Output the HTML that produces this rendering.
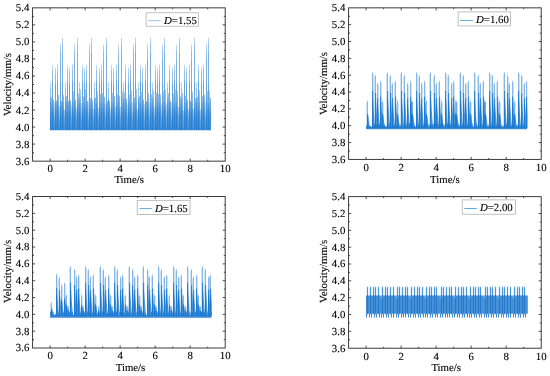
<!DOCTYPE html>
<html><head><meta charset="utf-8"><title>Velocity plots</title>
<style>
html,body{margin:0;padding:0;background:#fff;}
svg{display:block;}
text{font-family:"Liberation Serif", serif;font-size:10.8px;fill:#000;stroke:#000;stroke-width:0.12px;text-rendering:geometricPrecision;}
</style></head>
<body>
<svg width="550" height="376" viewBox="0 0 550 376">
<rect width="550" height="376" fill="#fff"/>
<defs><linearGradient id="gA" gradientUnits="userSpaceOnUse" x1="0" y1="130.49" x2="0" y2="91.31"><stop offset="0" stop-color="#1676cf" stop-opacity="0.93"/><stop offset="0.35" stop-color="#1676cf" stop-opacity="0.9"/><stop offset="0.74" stop-color="#1676cf" stop-opacity="0.7"/><stop offset="1" stop-color="#1676cf" stop-opacity="0.657"/></linearGradient><linearGradient id="gB" gradientUnits="userSpaceOnUse" x1="0" y1="130.49" x2="0" y2="87.91"><stop offset="0" stop-color="#1676cf" stop-opacity="0.86"/><stop offset="0.38" stop-color="#1676cf" stop-opacity="0.78"/><stop offset="0.68" stop-color="#1676cf" stop-opacity="0.55"/><stop offset="1" stop-color="#1676cf" stop-opacity="0.3"/></linearGradient><linearGradient id="gC" gradientUnits="userSpaceOnUse" x1="0" y1="130.49" x2="0" y2="98.13"><stop offset="0" stop-color="#1676cf" stop-opacity="0.8"/><stop offset="0.29" stop-color="#1676cf" stop-opacity="0.68"/><stop offset="0.58" stop-color="#1676cf" stop-opacity="0.4"/><stop offset="1" stop-color="#1676cf" stop-opacity="0.12"/></linearGradient></defs>
<rect x="32.6" y="7.85" width="192.6" height="153.3" fill="none" stroke="#262626" stroke-width="0.9"/>
<path d="M50.11 161.15v-2.6M50.11 7.85v2.6M67.62 161.15v-1.4M67.62 7.85v1.4M85.13 161.15v-2.6M85.13 7.85v2.6M102.64 161.15v-1.4M102.64 7.85v1.4M120.15 161.15v-2.6M120.15 7.85v2.6M137.65 161.15v-1.4M137.65 7.85v1.4M155.16 161.15v-2.6M155.16 7.85v2.6M172.67 161.15v-1.4M172.67 7.85v1.4M190.18 161.15v-2.6M190.18 7.85v2.6M207.69 161.15v-1.4M207.69 7.85v1.4M32.6 152.63h1.4M225.2 152.63h-1.4M32.6 144.12h2.6M225.2 144.12h-2.6M32.6 135.6h1.4M225.2 135.6h-1.4M32.6 127.08h2.6M225.2 127.08h-2.6M32.6 118.57h1.4M225.2 118.57h-1.4M32.6 110.05h2.6M225.2 110.05h-2.6M32.6 101.53h1.4M225.2 101.53h-1.4M32.6 93.02h2.6M225.2 93.02h-2.6M32.6 84.5h1.4M225.2 84.5h-1.4M32.6 75.98h2.6M225.2 75.98h-2.6M32.6 67.47h1.4M225.2 67.47h-1.4M32.6 58.95h2.6M225.2 58.95h-2.6M32.6 50.43h1.4M225.2 50.43h-1.4M32.6 41.92h2.6M225.2 41.92h-2.6M32.6 33.4h1.4M225.2 33.4h-1.4M32.6 24.88h2.6M225.2 24.88h-2.6M32.6 16.37h1.4M225.2 16.37h-1.4" stroke="#262626" stroke-width="0.8" fill="none"/>
<text x="29.3" y="164.6" text-anchor="end">3.6</text>
<text x="29.3" y="147.57" text-anchor="end">3.8</text>
<text x="29.3" y="130.53" text-anchor="end">4.0</text>
<text x="29.3" y="113.5" text-anchor="end">4.2</text>
<text x="29.3" y="96.47" text-anchor="end">4.4</text>
<text x="29.3" y="79.43" text-anchor="end">4.6</text>
<text x="29.3" y="62.4" text-anchor="end">4.8</text>
<text x="29.3" y="45.37" text-anchor="end">5.0</text>
<text x="29.3" y="28.33" text-anchor="end">5.2</text>
<text x="29.3" y="11.3" text-anchor="end">5.4</text>
<text x="50.11" y="172.45" text-anchor="middle">0</text>
<text x="85.13" y="172.45" text-anchor="middle">2</text>
<text x="120.15" y="172.45" text-anchor="middle">4</text>
<text x="155.16" y="172.45" text-anchor="middle">6</text>
<text x="190.18" y="172.45" text-anchor="middle">8</text>
<text x="225.2" y="172.45" text-anchor="middle">10</text>
<text x="129.2" y="183" text-anchor="middle" font-size="11">Time/s</text>
<text transform="translate(10.9 84.5) rotate(-90)" text-anchor="middle" font-size="11">Velocity/mm/s</text>
<rect x="348.6" y="7.85" width="192.6" height="151.55" fill="none" stroke="#262626" stroke-width="0.9"/>
<path d="M366.11 159.4v-2.6M366.11 7.85v2.6M383.62 159.4v-1.4M383.62 7.85v1.4M401.13 159.4v-2.6M401.13 7.85v2.6M418.64 159.4v-1.4M418.64 7.85v1.4M436.15 159.4v-2.6M436.15 7.85v2.6M453.65 159.4v-1.4M453.65 7.85v1.4M471.16 159.4v-2.6M471.16 7.85v2.6M488.67 159.4v-1.4M488.67 7.85v1.4M506.18 159.4v-2.6M506.18 7.85v2.6M523.69 159.4v-1.4M523.69 7.85v1.4M348.6 150.98h1.4M541.2 150.98h-1.4M348.6 142.56h2.6M541.2 142.56h-2.6M348.6 134.14h1.4M541.2 134.14h-1.4M348.6 125.72h2.6M541.2 125.72h-2.6M348.6 117.3h1.4M541.2 117.3h-1.4M348.6 108.88h2.6M541.2 108.88h-2.6M348.6 100.46h1.4M541.2 100.46h-1.4M348.6 92.04h2.6M541.2 92.04h-2.6M348.6 83.63h1.4M541.2 83.63h-1.4M348.6 75.21h2.6M541.2 75.21h-2.6M348.6 66.79h1.4M541.2 66.79h-1.4M348.6 58.37h2.6M541.2 58.37h-2.6M348.6 49.95h1.4M541.2 49.95h-1.4M348.6 41.53h2.6M541.2 41.53h-2.6M348.6 33.11h1.4M541.2 33.11h-1.4M348.6 24.69h2.6M541.2 24.69h-2.6M348.6 16.27h1.4M541.2 16.27h-1.4" stroke="#262626" stroke-width="0.8" fill="none"/>
<text x="345.3" y="162.85" text-anchor="end">3.6</text>
<text x="345.3" y="146.01" text-anchor="end">3.8</text>
<text x="345.3" y="129.17" text-anchor="end">4.0</text>
<text x="345.3" y="112.33" text-anchor="end">4.2</text>
<text x="345.3" y="95.49" text-anchor="end">4.4</text>
<text x="345.3" y="78.66" text-anchor="end">4.6</text>
<text x="345.3" y="61.82" text-anchor="end">4.8</text>
<text x="345.3" y="44.98" text-anchor="end">5.0</text>
<text x="345.3" y="28.14" text-anchor="end">5.2</text>
<text x="345.3" y="11.3" text-anchor="end">5.4</text>
<text x="366.11" y="170.7" text-anchor="middle">0</text>
<text x="401.13" y="170.7" text-anchor="middle">2</text>
<text x="436.15" y="170.7" text-anchor="middle">4</text>
<text x="471.16" y="170.7" text-anchor="middle">6</text>
<text x="506.18" y="170.7" text-anchor="middle">8</text>
<text x="541.2" y="170.7" text-anchor="middle">10</text>
<text x="444.85" y="182.5" text-anchor="middle" font-size="11">Time/s</text>
<text transform="translate(327.3 83.5) rotate(-90)" text-anchor="middle" font-size="11">Velocity/mm/s</text>
<rect x="32.6" y="196.55" width="192.6" height="151.45" fill="none" stroke="#262626" stroke-width="0.9"/>
<path d="M50.11 348v-2.6M50.11 196.55v2.6M67.62 348v-1.4M67.62 196.55v1.4M85.13 348v-2.6M85.13 196.55v2.6M102.64 348v-1.4M102.64 196.55v1.4M120.15 348v-2.6M120.15 196.55v2.6M137.65 348v-1.4M137.65 196.55v1.4M155.16 348v-2.6M155.16 196.55v2.6M172.67 348v-1.4M172.67 196.55v1.4M190.18 348v-2.6M190.18 196.55v2.6M207.69 348v-1.4M207.69 196.55v1.4M32.6 339.59h1.4M225.2 339.59h-1.4M32.6 331.17h2.6M225.2 331.17h-2.6M32.6 322.76h1.4M225.2 322.76h-1.4M32.6 314.34h2.6M225.2 314.34h-2.6M32.6 305.93h1.4M225.2 305.93h-1.4M32.6 297.52h2.6M225.2 297.52h-2.6M32.6 289.1h1.4M225.2 289.1h-1.4M32.6 280.69h2.6M225.2 280.69h-2.6M32.6 272.28h1.4M225.2 272.28h-1.4M32.6 263.86h2.6M225.2 263.86h-2.6M32.6 255.45h1.4M225.2 255.45h-1.4M32.6 247.03h2.6M225.2 247.03h-2.6M32.6 238.62h1.4M225.2 238.62h-1.4M32.6 230.21h2.6M225.2 230.21h-2.6M32.6 221.79h1.4M225.2 221.79h-1.4M32.6 213.38h2.6M225.2 213.38h-2.6M32.6 204.96h1.4M225.2 204.96h-1.4" stroke="#262626" stroke-width="0.8" fill="none"/>
<text x="29.3" y="351.45" text-anchor="end">3.6</text>
<text x="29.3" y="334.62" text-anchor="end">3.8</text>
<text x="29.3" y="317.79" text-anchor="end">4.0</text>
<text x="29.3" y="300.97" text-anchor="end">4.2</text>
<text x="29.3" y="284.14" text-anchor="end">4.4</text>
<text x="29.3" y="267.31" text-anchor="end">4.6</text>
<text x="29.3" y="250.48" text-anchor="end">4.8</text>
<text x="29.3" y="233.66" text-anchor="end">5.0</text>
<text x="29.3" y="216.83" text-anchor="end">5.2</text>
<text x="29.3" y="200" text-anchor="end">5.4</text>
<text x="50.11" y="359.3" text-anchor="middle">0</text>
<text x="85.13" y="359.3" text-anchor="middle">2</text>
<text x="120.15" y="359.3" text-anchor="middle">4</text>
<text x="155.16" y="359.3" text-anchor="middle">6</text>
<text x="190.18" y="359.3" text-anchor="middle">8</text>
<text x="225.2" y="359.3" text-anchor="middle">10</text>
<text x="130.5" y="371.4" text-anchor="middle" font-size="11">Time/s</text>
<text transform="translate(10.9 271.4) rotate(-90)" text-anchor="middle" font-size="11">Velocity/mm/s</text>
<rect x="348.6" y="196.65" width="192.6" height="151.55" fill="none" stroke="#262626" stroke-width="0.9"/>
<path d="M366.11 348.2v-2.6M366.11 196.65v2.6M383.62 348.2v-1.4M383.62 196.65v1.4M401.13 348.2v-2.6M401.13 196.65v2.6M418.64 348.2v-1.4M418.64 196.65v1.4M436.15 348.2v-2.6M436.15 196.65v2.6M453.65 348.2v-1.4M453.65 196.65v1.4M471.16 348.2v-2.6M471.16 196.65v2.6M488.67 348.2v-1.4M488.67 196.65v1.4M506.18 348.2v-2.6M506.18 196.65v2.6M523.69 348.2v-1.4M523.69 196.65v1.4M348.6 339.78h1.4M541.2 339.78h-1.4M348.6 331.36h2.6M541.2 331.36h-2.6M348.6 322.94h1.4M541.2 322.94h-1.4M348.6 314.52h2.6M541.2 314.52h-2.6M348.6 306.1h1.4M541.2 306.1h-1.4M348.6 297.68h2.6M541.2 297.68h-2.6M348.6 289.26h1.4M541.2 289.26h-1.4M348.6 280.84h2.6M541.2 280.84h-2.6M348.6 272.43h1.4M541.2 272.43h-1.4M348.6 264.01h2.6M541.2 264.01h-2.6M348.6 255.59h1.4M541.2 255.59h-1.4M348.6 247.17h2.6M541.2 247.17h-2.6M348.6 238.75h1.4M541.2 238.75h-1.4M348.6 230.33h2.6M541.2 230.33h-2.6M348.6 221.91h1.4M541.2 221.91h-1.4M348.6 213.49h2.6M541.2 213.49h-2.6M348.6 205.07h1.4M541.2 205.07h-1.4" stroke="#262626" stroke-width="0.8" fill="none"/>
<text x="345.3" y="351.65" text-anchor="end">3.6</text>
<text x="345.3" y="334.81" text-anchor="end">3.8</text>
<text x="345.3" y="317.97" text-anchor="end">4.0</text>
<text x="345.3" y="301.13" text-anchor="end">4.2</text>
<text x="345.3" y="284.29" text-anchor="end">4.4</text>
<text x="345.3" y="267.46" text-anchor="end">4.6</text>
<text x="345.3" y="250.62" text-anchor="end">4.8</text>
<text x="345.3" y="233.78" text-anchor="end">5.0</text>
<text x="345.3" y="216.94" text-anchor="end">5.2</text>
<text x="345.3" y="200.1" text-anchor="end">5.4</text>
<text x="366.11" y="359.5" text-anchor="middle">0</text>
<text x="401.13" y="359.5" text-anchor="middle">2</text>
<text x="436.15" y="359.5" text-anchor="middle">4</text>
<text x="471.16" y="359.5" text-anchor="middle">6</text>
<text x="506.18" y="359.5" text-anchor="middle">8</text>
<text x="541.2" y="359.5" text-anchor="middle">10</text>
<text x="446.2" y="371.4" text-anchor="middle" font-size="11">Time/s</text>
<text transform="translate(327.3 271.4) rotate(-90)" text-anchor="middle" font-size="11">Velocity/mm/s</text>
<path d="M50 130.15V101.53h1V130.15zM52 130.15V101.53h1V130.15zM55 130.15V101.53h1V130.15zM57 130.15V101.53h1V130.15zM60 130.15V101.53h1V130.15zM62 130.15V101.53h1V130.15zM65 130.15V101.53h1V130.15zM67 130.15V101.53h1V130.15zM69 130.15V101.53h1V130.15zM72 130.15V101.53h1V130.15zM74 130.15V101.53h1V130.15zM77 130.15V101.53h1V130.15zM79 130.15V101.53h1V130.15zM82 130.15V101.53h1V130.15zM84 130.15V101.53h1V130.15zM86 130.15V101.53h1V130.15zM89 130.15V101.53h1V130.15zM91 130.15V101.53h1V130.15zM94 130.15V101.53h1V130.15zM96 130.15V101.53h1V130.15zM99 130.15V101.53h1V130.15zM101 130.15V101.53h1V130.15zM103 130.15V101.53h1V130.15zM106 130.15V101.53h1V130.15zM108 130.15V101.53h1V130.15zM111 130.15V101.53h1V130.15zM113 130.15V101.53h1V130.15zM116 130.15V101.53h1V130.15zM118 130.15V101.53h1V130.15zM121 130.15V101.53h1V130.15zM123 130.15V101.53h1V130.15zM125 130.15V101.53h1V130.15zM128 130.15V101.53h1V130.15zM130 130.15V101.53h1V130.15zM133 130.15V101.53h1V130.15zM135 130.15V101.53h1V130.15zM138 130.15V101.53h1V130.15zM140 130.15V101.53h1V130.15zM142 130.15V101.53h1V130.15zM145 130.15V101.53h1V130.15zM147 130.15V101.53h1V130.15zM150 130.15V101.53h1V130.15zM152 130.15V101.53h1V130.15zM155 130.15V101.53h1V130.15zM157 130.15V101.53h1V130.15zM159 130.15V101.53h1V130.15zM162 130.15V101.53h1V130.15zM164 130.15V101.53h1V130.15zM167 130.15V101.53h1V130.15zM169 130.15V101.53h1V130.15zM172 130.15V101.53h1V130.15zM174 130.15V101.53h1V130.15zM176 130.15V101.53h1V130.15zM179 130.15V101.53h1V130.15zM181 130.15V101.53h1V130.15zM184 130.15V101.53h1V130.15zM186 130.15V101.53h1V130.15zM189 130.15V101.53h1V130.15zM191 130.15V101.53h1V130.15zM194 130.15V101.53h1V130.15zM196 130.15V101.53h1V130.15zM198 130.15V101.53h1V130.15zM201 130.15V101.53h1V130.15zM203 130.15V101.53h1V130.15zM206 130.15V101.53h1V130.15zM208 130.15V101.53h1V130.15z" fill="url(#gA)" />
<path d="M51 130.15V97.4h1V130.15zM53 130.15V99.61h1V130.15zM56 130.15V100.61h1V130.15zM58 130.15V94.69h1V130.15zM61 130.15V100.79h1V130.15zM63 130.15V95.05h1V130.15zM66 130.15V95.99h1V130.15zM68 130.15V100.64h1V130.15zM70 130.15V100.37h1V130.15zM73 130.15V90.97h1V130.15zM75 130.15V99.95h1V130.15zM78 130.15V93.52h1V130.15zM80 130.15V89.43h1V130.15zM83 130.15V96.47h1V130.15zM85 130.15V89.06h1V130.15zM87 130.15V100.94h1V130.15zM90 130.15V97.83h1V130.15zM92 130.15V99.69h1V130.15zM95 130.15V97.59h1V130.15zM97 130.15V91.11h1V130.15zM100 130.15V94.1h1V130.15zM102 130.15V93.37h1V130.15zM104 130.15V96.78h1V130.15zM107 130.15V100.73h1V130.15zM109 130.15V100.77h1V130.15zM112 130.15V92.84h1V130.15zM114 130.15V96.07h1V130.15zM117 130.15V94.05h1V130.15zM119 130.15V95.74h1V130.15zM122 130.15V91.39h1V130.15zM124 130.15V92.6h1V130.15zM126 130.15V98.42h1V130.15zM129 130.15V94.82h1V130.15zM131 130.15V90.35h1V130.15zM134 130.15V97.85h1V130.15zM136 130.15V89.01h1V130.15zM139 130.15V96.19h1V130.15zM141 130.15V91.86h1V130.15zM143 130.15V99.59h1V130.15zM146 130.15V101.03h1V130.15zM148 130.15V93h1V130.15zM151 130.15V94.21h1V130.15zM153 130.15V90.35h1V130.15zM156 130.15V92.65h1V130.15zM158 130.15V93.94h1V130.15zM160 130.15V94.13h1V130.15zM163 130.15V90.8h1V130.15zM165 130.15V89.47h1V130.15zM168 130.15V93.05h1V130.15zM170 130.15V100.76h1V130.15zM173 130.15V93.27h1V130.15zM175 130.15V88.85h1V130.15zM177 130.15V91.03h1V130.15zM180 130.15V96.6h1V130.15zM182 130.15V92.99h1V130.15zM185 130.15V95.64h1V130.15zM187 130.15V99.39h1V130.15zM190 130.15V100.78h1V130.15zM192 130.15V91.72h1V130.15zM195 130.15V98.37h1V130.15zM197 130.15V96.54h1V130.15zM199 130.15V90.4h1V130.15zM202 130.15V95.79h1V130.15zM204 130.15V94.51h1V130.15zM207 130.15V91.07h1V130.15zM209 130.15V90.5h1V130.15zM210 130.15V97.98h1V130.15z" fill="url(#gB)" />
<path d="M54 130.15V102.29h1V130.15zM59 130.15V105.69h1V130.15zM64 130.15V109.6h1V130.15zM71 130.15V104.99h1V130.15zM76 130.15V107.39h1V130.15zM81 130.15V103.17h1V130.15zM88 130.15V99.81h1V130.15zM93 130.15V108.65h1V130.15zM98 130.15V107.9h1V130.15zM105 130.15V103.52h1V130.15zM110 130.15V107.59h1V130.15zM115 130.15V106.3h1V130.15zM120 130.15V106.48h1V130.15zM127 130.15V103.2h1V130.15zM132 130.15V101.35h1V130.15zM137 130.15V108.64h1V130.15zM144 130.15V104.22h1V130.15zM149 130.15V100.93h1V130.15zM154 130.15V106.31h1V130.15zM161 130.15V104.61h1V130.15zM166 130.15V104.4h1V130.15zM171 130.15V101.69h1V130.15zM178 130.15V106.66h1V130.15zM183 130.15V109.78h1V130.15zM188 130.15V108.65h1V130.15zM193 130.15V108.51h1V130.15zM200 130.15V109.09h1V130.15zM205 130.15V99.52h1V130.15z" fill="url(#gC)" />
<path d="M50 101.53V82.8h1V101.53zM52 101.53V65.76h1V101.53zM55 101.53V68.32h1V101.53zM57 101.53V64.91h1V101.53zM60 101.53V45.32h1V101.53zM62 101.53V38.51h1V101.53zM65 101.53V82.8h1V101.53zM67 101.53V65.76h1V101.53zM69 101.53V68.32h1V101.53zM72 101.53V64.91h1V101.53zM74 101.53V45.32h1V101.53zM77 101.53V38.51h1V101.53zM79 101.53V82.8h1V101.53zM82 101.53V65.76h1V101.53zM84 101.53V68.32h1V101.53zM86 101.53V64.91h1V101.53zM89 101.53V45.32h1V101.53zM91 101.53V38.51h1V101.53zM94 101.53V82.8h1V101.53zM96 101.53V65.76h1V101.53zM99 101.53V68.32h1V101.53zM101 101.53V64.91h1V101.53zM103 101.53V45.32h1V101.53zM106 101.53V38.51h1V101.53zM108 101.53V82.8h1V101.53zM111 101.53V65.76h1V101.53zM113 101.53V68.32h1V101.53zM116 101.53V64.91h1V101.53zM118 101.53V45.32h1V101.53zM121 101.53V38.51h1V101.53zM123 101.53V82.8h1V101.53zM125 101.53V65.76h1V101.53zM128 101.53V68.32h1V101.53zM130 101.53V64.91h1V101.53zM133 101.53V45.32h1V101.53zM135 101.53V38.51h1V101.53zM138 101.53V82.8h1V101.53zM140 101.53V65.76h1V101.53zM142 101.53V68.32h1V101.53zM145 101.53V64.91h1V101.53zM147 101.53V45.32h1V101.53zM150 101.53V38.51h1V101.53zM152 101.53V82.8h1V101.53zM155 101.53V65.76h1V101.53zM157 101.53V68.32h1V101.53zM159 101.53V64.91h1V101.53zM162 101.53V45.32h1V101.53zM164 101.53V38.51h1V101.53zM167 101.53V82.8h1V101.53zM169 101.53V65.76h1V101.53zM172 101.53V68.32h1V101.53zM174 101.53V64.91h1V101.53zM176 101.53V45.32h1V101.53zM179 101.53V38.51h1V101.53zM181 101.53V82.8h1V101.53zM184 101.53V65.76h1V101.53zM186 101.53V68.32h1V101.53zM189 101.53V64.91h1V101.53zM191 101.53V45.32h1V101.53zM194 101.53V38.51h1V101.53zM196 101.53V82.8h1V101.53zM198 101.53V65.76h1V101.53zM201 101.53V68.32h1V101.53zM203 101.53V64.91h1V101.53zM206 101.53V45.32h1V101.53zM208 101.53V38.51h1V101.53z" fill="#1676cf" fill-opacity="0.33"/>
<path d="M50 82.8V81.52h1V82.8zM52 65.76V64.49h1V65.76zM55 68.32V67.04h1V68.32zM57 64.91V63.63h1V64.91zM60 45.32V44.05h1V45.32zM62 38.51V37.23h1V38.51zM65 82.8V81.52h1V82.8zM67 65.76V64.49h1V65.76zM69 68.32V67.04h1V68.32zM72 64.91V63.63h1V64.91zM74 45.32V44.05h1V45.32zM77 38.51V37.23h1V38.51zM79 82.8V81.52h1V82.8zM82 65.76V64.49h1V65.76zM84 68.32V67.04h1V68.32zM86 64.91V63.63h1V64.91zM89 45.32V44.05h1V45.32zM91 38.51V37.23h1V38.51zM94 82.8V81.52h1V82.8zM96 65.76V64.49h1V65.76zM99 68.32V67.04h1V68.32zM101 64.91V63.63h1V64.91zM103 45.32V44.05h1V45.32zM106 38.51V37.23h1V38.51zM108 82.8V81.52h1V82.8zM111 65.76V64.49h1V65.76zM113 68.32V67.04h1V68.32zM116 64.91V63.63h1V64.91zM118 45.32V44.05h1V45.32zM121 38.51V37.23h1V38.51zM123 82.8V81.52h1V82.8zM125 65.76V64.49h1V65.76zM128 68.32V67.04h1V68.32zM130 64.91V63.63h1V64.91zM133 45.32V44.05h1V45.32zM135 38.51V37.23h1V38.51zM138 82.8V81.52h1V82.8zM140 65.76V64.49h1V65.76zM142 68.32V67.04h1V68.32zM145 64.91V63.63h1V64.91zM147 45.32V44.05h1V45.32zM150 38.51V37.23h1V38.51zM152 82.8V81.52h1V82.8zM155 65.76V64.49h1V65.76zM157 68.32V67.04h1V68.32zM159 64.91V63.63h1V64.91zM162 45.32V44.05h1V45.32zM164 38.51V37.23h1V38.51zM167 82.8V81.52h1V82.8zM169 65.76V64.49h1V65.76zM172 68.32V67.04h1V68.32zM174 64.91V63.63h1V64.91zM176 45.32V44.05h1V45.32zM179 38.51V37.23h1V38.51zM181 82.8V81.52h1V82.8zM184 65.76V64.49h1V65.76zM186 68.32V67.04h1V68.32zM189 64.91V63.63h1V64.91zM191 45.32V44.05h1V45.32zM194 38.51V37.23h1V38.51zM196 82.8V81.52h1V82.8zM198 65.76V64.49h1V65.76zM201 68.32V67.04h1V68.32zM203 64.91V63.63h1V64.91zM206 45.32V44.05h1V45.32zM208 38.51V37.23h1V38.51z" fill="#1676cf" fill-opacity="0.15"/>
<path d="M50 101.53V87.91h1V101.53zM52 101.53V70.87h1V101.53zM55 101.53V73.43h1V101.53zM57 101.53V70.02h1V101.53zM60 101.53V50.43h1V101.53zM62 101.53V43.62h1V101.53zM65 101.53V87.91h1V101.53zM67 101.53V70.87h1V101.53zM69 101.53V73.43h1V101.53zM72 101.53V70.02h1V101.53zM74 101.53V50.43h1V101.53zM77 101.53V43.62h1V101.53zM79 101.53V87.91h1V101.53zM82 101.53V70.87h1V101.53zM84 101.53V73.43h1V101.53zM86 101.53V70.02h1V101.53zM89 101.53V50.43h1V101.53zM91 101.53V43.62h1V101.53zM94 101.53V87.91h1V101.53zM96 101.53V70.87h1V101.53zM99 101.53V73.43h1V101.53zM101 101.53V70.02h1V101.53zM103 101.53V50.43h1V101.53zM106 101.53V43.62h1V101.53zM108 101.53V87.91h1V101.53zM111 101.53V70.87h1V101.53zM113 101.53V73.43h1V101.53zM116 101.53V70.02h1V101.53zM118 101.53V50.43h1V101.53zM121 101.53V43.62h1V101.53zM123 101.53V87.91h1V101.53zM125 101.53V70.87h1V101.53zM128 101.53V73.43h1V101.53zM130 101.53V70.02h1V101.53zM133 101.53V50.43h1V101.53zM135 101.53V43.62h1V101.53zM138 101.53V87.91h1V101.53zM140 101.53V70.87h1V101.53zM142 101.53V73.43h1V101.53zM145 101.53V70.02h1V101.53zM147 101.53V50.43h1V101.53zM150 101.53V43.62h1V101.53zM152 101.53V87.91h1V101.53zM155 101.53V70.87h1V101.53zM157 101.53V73.43h1V101.53zM159 101.53V70.02h1V101.53zM162 101.53V50.43h1V101.53zM164 101.53V43.62h1V101.53zM167 101.53V87.91h1V101.53zM169 101.53V70.87h1V101.53zM172 101.53V73.43h1V101.53zM174 101.53V70.02h1V101.53zM176 101.53V50.43h1V101.53zM179 101.53V43.62h1V101.53zM181 101.53V87.91h1V101.53zM184 101.53V70.87h1V101.53zM186 101.53V73.43h1V101.53zM189 101.53V70.02h1V101.53zM191 101.53V50.43h1V101.53zM194 101.53V43.62h1V101.53zM196 101.53V87.91h1V101.53zM198 101.53V70.87h1V101.53zM201 101.53V73.43h1V101.53zM203 101.53V70.02h1V101.53zM206 101.53V50.43h1V101.53zM208 101.53V43.62h1V101.53z" fill="#1676cf" fill-opacity="0.2"/>
<path d="M50 101.53V97.27h1V101.53zM52 101.53V80.24h1V101.53zM55 101.53V82.8h1V101.53zM57 101.53V79.39h1V101.53zM60 101.53V59.8h1V101.53zM62 101.53V52.99h1V101.53zM65 101.53V97.27h1V101.53zM67 101.53V80.24h1V101.53zM69 101.53V82.8h1V101.53zM72 101.53V79.39h1V101.53zM74 101.53V59.8h1V101.53zM77 101.53V52.99h1V101.53zM79 101.53V97.27h1V101.53zM82 101.53V80.24h1V101.53zM84 101.53V82.8h1V101.53zM86 101.53V79.39h1V101.53zM89 101.53V59.8h1V101.53zM91 101.53V52.99h1V101.53zM94 101.53V97.27h1V101.53zM96 101.53V80.24h1V101.53zM99 101.53V82.8h1V101.53zM101 101.53V79.39h1V101.53zM103 101.53V59.8h1V101.53zM106 101.53V52.99h1V101.53zM108 101.53V97.27h1V101.53zM111 101.53V80.24h1V101.53zM113 101.53V82.8h1V101.53zM116 101.53V79.39h1V101.53zM118 101.53V59.8h1V101.53zM121 101.53V52.99h1V101.53zM123 101.53V97.27h1V101.53zM125 101.53V80.24h1V101.53zM128 101.53V82.8h1V101.53zM130 101.53V79.39h1V101.53zM133 101.53V59.8h1V101.53zM135 101.53V52.99h1V101.53zM138 101.53V97.27h1V101.53zM140 101.53V80.24h1V101.53zM142 101.53V82.8h1V101.53zM145 101.53V79.39h1V101.53zM147 101.53V59.8h1V101.53zM150 101.53V52.99h1V101.53zM152 101.53V97.27h1V101.53zM155 101.53V80.24h1V101.53zM157 101.53V82.8h1V101.53zM159 101.53V79.39h1V101.53zM162 101.53V59.8h1V101.53zM164 101.53V52.99h1V101.53zM167 101.53V97.27h1V101.53zM169 101.53V80.24h1V101.53zM172 101.53V82.8h1V101.53zM174 101.53V79.39h1V101.53zM176 101.53V59.8h1V101.53zM179 101.53V52.99h1V101.53zM181 101.53V97.27h1V101.53zM184 101.53V80.24h1V101.53zM186 101.53V82.8h1V101.53zM189 101.53V79.39h1V101.53zM191 101.53V59.8h1V101.53zM194 101.53V52.99h1V101.53zM196 101.53V97.27h1V101.53zM198 101.53V80.24h1V101.53zM201 101.53V82.8h1V101.53zM203 101.53V79.39h1V101.53zM206 101.53V59.8h1V101.53zM208 101.53V52.99h1V101.53z" fill="#1676cf" fill-opacity="0.2"/>
<path d="M50 101.53V98.98h1V101.53zM52 101.53V82.8h1V101.53zM55 101.53V84.5h1V101.53zM57 101.53V82.8h1V101.53zM60 101.53V82.8h1V101.53zM62 101.53V82.8h1V101.53zM65 101.53V98.98h1V101.53zM67 101.53V82.8h1V101.53zM69 101.53V84.5h1V101.53zM72 101.53V82.8h1V101.53zM74 101.53V82.8h1V101.53zM77 101.53V82.8h1V101.53zM79 101.53V98.98h1V101.53zM82 101.53V82.8h1V101.53zM84 101.53V84.5h1V101.53zM86 101.53V82.8h1V101.53zM89 101.53V82.8h1V101.53zM91 101.53V82.8h1V101.53zM94 101.53V98.98h1V101.53zM96 101.53V82.8h1V101.53zM99 101.53V84.5h1V101.53zM101 101.53V82.8h1V101.53zM103 101.53V82.8h1V101.53zM106 101.53V82.8h1V101.53zM108 101.53V98.98h1V101.53zM111 101.53V82.8h1V101.53zM113 101.53V84.5h1V101.53zM116 101.53V82.8h1V101.53zM118 101.53V82.8h1V101.53zM121 101.53V82.8h1V101.53zM123 101.53V98.98h1V101.53zM125 101.53V82.8h1V101.53zM128 101.53V84.5h1V101.53zM130 101.53V82.8h1V101.53zM133 101.53V82.8h1V101.53zM135 101.53V82.8h1V101.53zM138 101.53V98.98h1V101.53zM140 101.53V82.8h1V101.53zM142 101.53V84.5h1V101.53zM145 101.53V82.8h1V101.53zM147 101.53V82.8h1V101.53zM150 101.53V82.8h1V101.53zM152 101.53V98.98h1V101.53zM155 101.53V82.8h1V101.53zM157 101.53V84.5h1V101.53zM159 101.53V82.8h1V101.53zM162 101.53V82.8h1V101.53zM164 101.53V82.8h1V101.53zM167 101.53V98.98h1V101.53zM169 101.53V82.8h1V101.53zM172 101.53V84.5h1V101.53zM174 101.53V82.8h1V101.53zM176 101.53V82.8h1V101.53zM179 101.53V82.8h1V101.53zM181 101.53V98.98h1V101.53zM184 101.53V82.8h1V101.53zM186 101.53V84.5h1V101.53zM189 101.53V82.8h1V101.53zM191 101.53V82.8h1V101.53zM194 101.53V82.8h1V101.53zM196 101.53V98.98h1V101.53zM198 101.53V82.8h1V101.53zM201 101.53V84.5h1V101.53zM203 101.53V82.8h1V101.53zM206 101.53V82.8h1V101.53zM208 101.53V82.8h1V101.53z" fill="#1676cf" fill-opacity="0.2"/>
<clipPath id="c1"><rect x="365.11" y="7.85" width="162.38" height="151.55"/></clipPath>
<g clip-path="url(#c1)">
<path d="M366.11 129.26V126.82h161.08V129.26zM366.11 127.83V125.34h1.02V127.83zM368.39 127.83V125.95h1.56V127.83zM370.35 127.83V125.71h0.83V127.83zM371.97 127.83V125.62h1.19V127.83zM373.36 127.83V125.31h1.02V127.83zM375.26 127.83V124.36h1.55V127.83zM377.63 127.83V124.4h1.22V127.83zM379.12 127.83V124.1h1.5V127.83zM381.86 127.83V125.24h1.4V127.83zM383.94 127.83V124.53h0.7V127.83zM384.92 127.83V125.78h0.67V127.83zM385.98 127.83V126.24h0.94V127.83zM387.12 127.83V126.1h0.75V127.83zM388.51 127.83V123.82h0.63V127.83zM390.07 127.83V125.65h0.75V127.83zM391.44 127.83V126.03h0.96V127.83zM393.62 127.83V125.02h1.59V127.83zM395.99 127.83V126.09h0.69V127.83zM397.29 127.83V123.95h0.86V127.83zM398.55 127.83V123.59h0.62V127.83zM400.01 127.83V124.8h0.75V127.83zM400.99 127.83V123.51h1.13V127.83zM403.35 127.83V125.63h1.3V127.83zM405.29 127.83V124.12h0.77V127.83zM406.89 127.83V125.42h1.38V127.83zM408.74 127.83V123.49h1.41V127.83zM411.37 127.83V123.98h1.41V127.83zM413.87 127.83V124.87h0.83V127.83zM415.32 127.83V126.31h0.63V127.83zM416.48 127.83V124.36h0.86V127.83zM418.69 127.83V123.63h1.05V127.83zM421.12 127.83V125.32h1.56V127.83zM423.14 127.83V125.82h0.83V127.83zM424.42 127.83V123.74h1.22V127.83zM426.85 127.83V124.47h1.08V127.83zM429.09 127.83V124.45h0.68V127.83zM431.06 127.83V124.19h1.38V127.83zM433.22 127.83V124.07h0.78V127.83zM434.6 127.83V123.53h1.4V127.83zM436.67 127.83V123.61h1V127.83zM438.74 127.83V126.02h0.77V127.83zM439.9 127.83V124.02h1.5V127.83zM441.78 127.83V123.51h1.43V127.83zM444.19 127.83V124.78h0.95V127.83zM445.5 127.83V123.53h0.61V127.83zM447.09 127.83V123.64h1.13V127.83zM448.94 127.83V123.96h1.47V127.83zM450.87 127.83V125.53h0.85V127.83zM452.21 127.83V125.63h1.19V127.83zM454.09 127.83V123.71h0.73V127.83zM455.45 127.83V124.68h1.06V127.83zM457.79 127.83V123.69h1.02V127.83zM459.62 127.83V124.85h1.13V127.83zM460.97 127.83V125.86h1.04V127.83zM462.22 127.83V125.89h1.4V127.83zM464.38 127.83V124.76h1.33V127.83zM466.3 127.83V124.76h1.12V127.83zM468.56 127.83V124.74h0.71V127.83zM469.76 127.83V124.12h0.88V127.83zM471.45 127.83V124.16h1.16V127.83zM473.91 127.83V124.59h1.04V127.83zM475.76 127.83V124.35h1.11V127.83zM477.61 127.83V124.99h1.13V127.83zM480.07 127.83V123.81h1.3V127.83zM482.7 127.83V124.75h0.86V127.83zM484.9 127.83V125.99h1.44V127.83zM486.68 127.83V126.18h1.04V127.83zM488.21 127.83V124.42h0.67V127.83zM490.03 127.83V125.94h1.5V127.83zM492.58 127.83V125.97h1.26V127.83zM495.1 127.83V125.75h1.57V127.83zM498.01 127.83V124.96h1V127.83zM500.4 127.83V125.92h1.43V127.83zM502.55 127.83V125.4h1.12V127.83zM504.1 127.83V124.27h0.92V127.83zM505.24 127.83V125.1h1.15V127.83zM506.62 127.83V124.56h0.93V127.83zM508.36 127.83V123.49h0.66V127.83zM510.17 127.83V126.09h1.57V127.83zM512.26 127.83V124.1h0.64V127.83zM513.43 127.83V125.15h0.73V127.83zM515.45 127.83V125.63h1.42V127.83zM517.25 127.83V124.71h1.52V127.83zM519.81 127.83V126.23h0.69V127.83zM521.52 127.83V126.18h1.03V127.83zM523.88 127.83V124.03h1.23V127.83zM525.41 127.83V126.2h1.46V127.83z" fill="#1676cf" fill-opacity="0.85"/>
<path d="M372 127.83V97.13L373.1 99.92L373.8 111.08L374.6 122.24L375.3 126.14V127.83ZM375 127.83V98.75L376.1 101.39L376.8 111.96L377.6 122.54L378.3 126.14V127.83ZM377 127.83V103.15L378.1 105.39L378.8 114.36L379.6 123.34L380.3 126.14V127.83ZM380 127.83V101.94L381.1 104.29L381.8 113.71L382.6 123.12L383.3 126.14V127.83ZM382 127.83V113.06L383.1 114.4L383.8 119.77L384.6 125.14L385.3 126.14V127.83ZM367 127.83V112.78L368.1 114.15L368.8 119.62L369.6 125.09L370.3 126.14V127.83ZM387 127.83V97.13L388.1 99.92L388.8 111.08L389.6 122.24L390.3 126.14V127.83ZM390 127.83V98.75L391.1 101.39L391.8 111.96L392.6 122.54L393.3 126.14V127.83ZM392 127.83V103.15L393.1 105.39L393.8 114.36L394.6 123.34L395.3 126.14V127.83ZM395 127.83V101.94L396.1 104.29L396.8 113.71L397.6 123.12L398.3 126.14V127.83ZM397 127.83V113.06L398.1 114.4L398.8 119.77L399.6 125.14L400.3 126.14V127.83ZM382 127.83V112.78L383.1 114.15L383.8 119.62L384.6 125.09L385.3 126.14V127.83ZM401 127.83V97.13L402.1 99.92L402.8 111.08L403.6 122.24L404.3 126.14V127.83ZM404 127.83V98.75L405.1 101.39L405.8 111.96L406.6 122.54L407.3 126.14V127.83ZM407 127.83V103.15L408.1 105.39L408.8 114.36L409.6 123.34L410.3 126.14V127.83ZM410 127.83V101.94L411.1 104.29L411.8 113.71L412.6 123.12L413.3 126.14V127.83ZM412 127.83V113.06L413.1 114.4L413.8 119.77L414.6 125.14L415.3 126.14V127.83ZM397 127.83V112.78L398.1 114.15L398.8 119.62L399.6 125.09L400.3 126.14V127.83ZM416 127.83V97.13L417.1 99.92L417.8 111.08L418.6 122.24L419.3 126.14V127.83ZM419 127.83V98.75L420.1 101.39L420.8 111.96L421.6 122.54L422.3 126.14V127.83ZM421 127.83V103.15L422.1 105.39L422.8 114.36L423.6 123.34L424.3 126.14V127.83ZM424 127.83V101.94L425.1 104.29L425.8 113.71L426.6 123.12L427.3 126.14V127.83ZM426 127.83V113.06L427.1 114.4L427.8 119.77L428.6 125.14L429.3 126.14V127.83ZM411 127.83V112.78L412.1 114.15L412.8 119.62L413.6 125.09L414.3 126.14V127.83ZM430 127.83V97.13L431.1 99.92L431.8 111.08L432.6 122.24L433.3 126.14V127.83ZM434 127.83V98.75L435.1 101.39L435.8 111.96L436.6 122.54L437.3 126.14V127.83ZM436 127.83V103.15L437.1 105.39L437.8 114.36L438.6 123.34L439.3 126.14V127.83ZM439 127.83V101.94L440.1 104.29L440.8 113.71L441.6 123.12L442.3 126.14V127.83ZM441 127.83V113.06L442.1 114.4L442.8 119.77L443.6 125.14L444.3 126.14V127.83ZM426 127.83V112.78L427.1 114.15L427.8 119.62L428.6 125.09L429.3 126.14V127.83ZM445 127.83V97.13L446.1 99.92L446.8 111.08L447.6 122.24L448.3 126.14V127.83ZM448 127.83V98.75L449.1 101.39L449.8 111.96L450.6 122.54L451.3 126.14V127.83ZM451 127.83V103.15L452.1 105.39L452.8 114.36L453.6 123.34L454.3 126.14V127.83ZM453 127.83V101.94L454.1 104.29L454.8 113.71L455.6 123.12L456.3 126.14V127.83ZM456 127.83V113.06L457.1 114.4L457.8 119.77L458.6 125.14L459.3 126.14V127.83ZM441 127.83V112.78L442.1 114.15L442.8 119.62L443.6 125.09L444.3 126.14V127.83ZM460 127.83V97.13L461.1 99.92L461.8 111.08L462.6 122.24L463.3 126.14V127.83ZM463 127.83V98.75L464.1 101.39L464.8 111.96L465.6 122.54L466.3 126.14V127.83ZM465 127.83V103.15L466.1 105.39L466.8 114.36L467.6 123.34L468.3 126.14V127.83ZM468 127.83V101.94L469.1 104.29L469.8 113.71L470.6 123.12L471.3 126.14V127.83ZM470 127.83V113.06L471.1 114.4L471.8 119.77L472.6 125.14L473.3 126.14V127.83ZM455 127.83V112.78L456.1 114.15L456.8 119.62L457.6 125.09L458.3 126.14V127.83ZM474 127.83V97.13L475.1 99.92L475.8 111.08L476.6 122.24L477.3 126.14V127.83ZM478 127.83V98.75L479.1 101.39L479.8 111.96L480.6 122.54L481.3 126.14V127.83ZM480 127.83V103.15L481.1 105.39L481.8 114.36L482.6 123.34L483.3 126.14V127.83ZM483 127.83V101.94L484.1 104.29L484.8 113.71L485.6 123.12L486.3 126.14V127.83ZM485 127.83V113.06L486.1 114.4L486.8 119.77L487.6 125.14L488.3 126.14V127.83ZM470 127.83V112.78L471.1 114.15L471.8 119.62L472.6 125.09L473.3 126.14V127.83ZM489 127.83V97.13L490.1 99.92L490.8 111.08L491.6 122.24L492.3 126.14V127.83ZM492 127.83V98.75L493.1 101.39L493.8 111.96L494.6 122.54L495.3 126.14V127.83ZM494 127.83V103.15L495.1 105.39L495.8 114.36L496.6 123.34L497.3 126.14V127.83ZM497 127.83V101.94L498.1 104.29L498.8 113.71L499.6 123.12L500.3 126.14V127.83ZM499 127.83V113.06L500.1 114.4L500.8 119.77L501.6 125.14L502.3 126.14V127.83ZM484 127.83V112.78L485.1 114.15L485.8 119.62L486.6 125.09L487.3 126.14V127.83ZM504 127.83V97.13L505.1 99.92L505.8 111.08L506.6 122.24L507.3 126.14V127.83ZM507 127.83V98.75L508.1 101.39L508.8 111.96L509.6 122.54L510.3 126.14V127.83ZM509 127.83V103.15L510.1 105.39L510.8 114.36L511.6 123.34L512.3 126.14V127.83ZM512 127.83V101.94L513.1 104.29L513.8 113.71L514.6 123.12L515.3 126.14V127.83ZM514 127.83V113.06L515.1 114.4L515.8 119.77L516.6 125.14L517.3 126.14V127.83ZM499 127.83V112.78L500.1 114.15L500.8 119.62L501.6 125.09L502.3 126.14V127.83ZM518 127.83V97.13L519.1 99.92L519.8 111.08L520.6 122.24L521.3 126.14V127.83ZM521 127.83V98.75L522.1 101.39L522.8 111.96L523.6 122.54L524.3 126.14V127.83ZM524 127.83V103.15L525.1 105.39L525.8 114.36L526.6 123.34L527.3 126.14V127.83ZM526 127.83V101.94L527.1 104.29L527.8 113.71L528.6 123.12L529.3 126.14V127.83ZM514 127.83V112.78L515.1 114.15L515.8 119.62L516.6 125.09L517.3 126.14V127.83Z" fill="#1676cf" fill-opacity="0.72"/>
<path d="M372 127.83V73.02h1V127.83zM375 127.83V75.96h1V127.83zM377 127.83V83.96h1V127.83zM380 127.83V81.77h1V127.83zM382 127.83V101.98h1V127.83zM367 127.83V101.47h1V127.83zM387 127.83V73.02h1V127.83zM390 127.83V75.96h1V127.83zM392 127.83V83.96h1V127.83zM395 127.83V81.77h1V127.83zM397 127.83V101.98h1V127.83zM382 127.83V101.47h1V127.83zM401 127.83V73.02h1V127.83zM404 127.83V75.96h1V127.83zM407 127.83V83.96h1V127.83zM410 127.83V81.77h1V127.83zM412 127.83V101.98h1V127.83zM397 127.83V101.47h1V127.83zM416 127.83V73.02h1V127.83zM419 127.83V75.96h1V127.83zM421 127.83V83.96h1V127.83zM424 127.83V81.77h1V127.83zM426 127.83V101.98h1V127.83zM411 127.83V101.47h1V127.83zM430 127.83V73.02h1V127.83zM434 127.83V75.96h1V127.83zM436 127.83V83.96h1V127.83zM439 127.83V81.77h1V127.83zM441 127.83V101.98h1V127.83zM426 127.83V101.47h1V127.83zM445 127.83V73.02h1V127.83zM448 127.83V75.96h1V127.83zM451 127.83V83.96h1V127.83zM453 127.83V81.77h1V127.83zM456 127.83V101.98h1V127.83zM441 127.83V101.47h1V127.83zM460 127.83V73.02h1V127.83zM463 127.83V75.96h1V127.83zM465 127.83V83.96h1V127.83zM468 127.83V81.77h1V127.83zM470 127.83V101.98h1V127.83zM455 127.83V101.47h1V127.83zM474 127.83V73.02h1V127.83zM478 127.83V75.96h1V127.83zM480 127.83V83.96h1V127.83zM483 127.83V81.77h1V127.83zM485 127.83V101.98h1V127.83zM470 127.83V101.47h1V127.83zM489 127.83V73.02h1V127.83zM492 127.83V75.96h1V127.83zM494 127.83V83.96h1V127.83zM497 127.83V81.77h1V127.83zM499 127.83V101.98h1V127.83zM484 127.83V101.47h1V127.83zM504 127.83V73.02h1V127.83zM507 127.83V75.96h1V127.83zM509 127.83V83.96h1V127.83zM512 127.83V81.77h1V127.83zM514 127.83V101.98h1V127.83zM499 127.83V101.47h1V127.83zM518 127.83V73.02h1V127.83zM521 127.83V75.96h1V127.83zM524 127.83V83.96h1V127.83zM526 127.83V81.77h1V127.83zM514 127.83V101.47h1V127.83z" fill="#1676cf" fill-opacity="0.52"/>
<path d="M373 127.83V73.69h0.5V127.83zM374.5 127.83V76.64h0.5V127.83zM378 127.83V84.64h0.5V127.83zM381 127.83V82.45h0.5V127.83zM383 127.83V102.65h0.5V127.83zM366.5 127.83V102.15h0.5V127.83zM386.5 127.83V73.69h0.5V127.83zM389.5 127.83V76.64h0.5V127.83zM391.5 127.83V84.64h0.5V127.83zM394.5 127.83V82.45h0.5V127.83zM398 127.83V102.65h0.5V127.83zM381.5 127.83V102.15h0.5V127.83zM400.5 127.83V73.69h0.5V127.83zM403.5 127.83V76.64h0.5V127.83zM408 127.83V84.64h0.5V127.83zM411 127.83V82.45h0.5V127.83zM411.5 127.83V102.65h0.5V127.83zM398 127.83V102.15h0.5V127.83zM417 127.83V73.69h0.5V127.83zM418.5 127.83V76.64h0.5V127.83zM422 127.83V84.64h0.5V127.83zM425 127.83V82.45h0.5V127.83zM425.5 127.83V102.65h0.5V127.83zM412 127.83V102.15h0.5V127.83zM429.5 127.83V73.69h0.5V127.83zM433.5 127.83V76.64h0.5V127.83zM435.5 127.83V84.64h0.5V127.83zM438.5 127.83V82.45h0.5V127.83zM442 127.83V102.65h0.5V127.83zM425.5 127.83V102.15h0.5V127.83zM446 127.83V73.69h0.5V127.83zM447.5 127.83V76.64h0.5V127.83zM452 127.83V84.64h0.5V127.83zM454 127.83V82.45h0.5V127.83zM457 127.83V102.65h0.5V127.83zM442 127.83V102.15h0.5V127.83zM459.5 127.83V73.69h0.5V127.83zM462.5 127.83V76.64h0.5V127.83zM466 127.83V84.64h0.5V127.83zM467.5 127.83V82.45h0.5V127.83zM469.5 127.83V102.65h0.5V127.83zM456 127.83V102.15h0.5V127.83zM475 127.83V73.69h0.5V127.83zM477.5 127.83V76.64h0.5V127.83zM479.5 127.83V84.64h0.5V127.83zM482.5 127.83V82.45h0.5V127.83zM484.5 127.83V102.65h0.5V127.83zM471 127.83V102.15h0.5V127.83zM490 127.83V73.69h0.5V127.83zM491.5 127.83V76.64h0.5V127.83zM493.5 127.83V84.64h0.5V127.83zM496.5 127.83V82.45h0.5V127.83zM500 127.83V102.65h0.5V127.83zM485 127.83V102.15h0.5V127.83zM503.5 127.83V73.69h0.5V127.83zM508 127.83V76.64h0.5V127.83zM508.5 127.83V84.64h0.5V127.83zM513 127.83V82.45h0.5V127.83zM513.5 127.83V102.65h0.5V127.83zM498.5 127.83V102.15h0.5V127.83zM519 127.83V73.69h0.5V127.83zM522 127.83V76.64h0.5V127.83zM523.5 127.83V84.64h0.5V127.83zM527 127.83V82.45h0.5V127.83zM515 127.83V102.15h0.5V127.83z" fill="#1676cf" fill-opacity="0.4"/>
<path d="M372 73.02V71.67h1V73.02zM375 75.96V74.62h1V75.96zM377 83.96V82.61h1V83.96zM380 81.77V80.43h1V81.77zM382 101.98V100.63h1V101.98zM367 101.47V100.13h1V101.47zM387 73.02V71.67h1V73.02zM390 75.96V74.62h1V75.96zM392 83.96V82.61h1V83.96zM395 81.77V80.43h1V81.77zM397 101.98V100.63h1V101.98zM382 101.47V100.13h1V101.47zM401 73.02V71.67h1V73.02zM404 75.96V74.62h1V75.96zM407 83.96V82.61h1V83.96zM410 81.77V80.43h1V81.77zM412 101.98V100.63h1V101.98zM397 101.47V100.13h1V101.47zM416 73.02V71.67h1V73.02zM419 75.96V74.62h1V75.96zM421 83.96V82.61h1V83.96zM424 81.77V80.43h1V81.77zM426 101.98V100.63h1V101.98zM411 101.47V100.13h1V101.47zM430 73.02V71.67h1V73.02zM434 75.96V74.62h1V75.96zM436 83.96V82.61h1V83.96zM439 81.77V80.43h1V81.77zM441 101.98V100.63h1V101.98zM426 101.47V100.13h1V101.47zM445 73.02V71.67h1V73.02zM448 75.96V74.62h1V75.96zM451 83.96V82.61h1V83.96zM453 81.77V80.43h1V81.77zM456 101.98V100.63h1V101.98zM441 101.47V100.13h1V101.47zM460 73.02V71.67h1V73.02zM463 75.96V74.62h1V75.96zM465 83.96V82.61h1V83.96zM468 81.77V80.43h1V81.77zM470 101.98V100.63h1V101.98zM455 101.47V100.13h1V101.47zM474 73.02V71.67h1V73.02zM478 75.96V74.62h1V75.96zM480 83.96V82.61h1V83.96zM483 81.77V80.43h1V81.77zM485 101.98V100.63h1V101.98zM470 101.47V100.13h1V101.47zM489 73.02V71.67h1V73.02zM492 75.96V74.62h1V75.96zM494 83.96V82.61h1V83.96zM497 81.77V80.43h1V81.77zM499 101.98V100.63h1V101.98zM484 101.47V100.13h1V101.47zM504 73.02V71.67h1V73.02zM507 75.96V74.62h1V75.96zM509 83.96V82.61h1V83.96zM512 81.77V80.43h1V81.77zM514 101.98V100.63h1V101.98zM499 101.47V100.13h1V101.47zM518 73.02V71.67h1V73.02zM521 75.96V74.62h1V75.96zM524 83.96V82.61h1V83.96zM526 81.77V80.43h1V81.77zM514 101.47V100.13h1V101.47z" fill="#1676cf" fill-opacity="0.25"/>
<path d="M372 127.83V90.99h1.2V127.83zM375 127.83V92.93h1.2V127.83zM377 127.83V98.21h1.2V127.83zM380 127.83V96.76h1.2V127.83zM382 127.83V115.74h1.2V127.83zM367 127.83V115.51h1.2V127.83zM387 127.83V90.99h1.2V127.83zM390 127.83V92.93h1.2V127.83zM392 127.83V98.21h1.2V127.83zM395 127.83V96.76h1.2V127.83zM397 127.83V115.74h1.2V127.83zM382 127.83V115.51h1.2V127.83zM401 127.83V90.99h1.2V127.83zM404 127.83V92.93h1.2V127.83zM407 127.83V98.21h1.2V127.83zM410 127.83V96.76h1.2V127.83zM412 127.83V115.74h1.2V127.83zM397 127.83V115.51h1.2V127.83zM416 127.83V90.99h1.2V127.83zM419 127.83V92.93h1.2V127.83zM421 127.83V98.21h1.2V127.83zM424 127.83V96.76h1.2V127.83zM426 127.83V115.74h1.2V127.83zM411 127.83V115.51h1.2V127.83zM430 127.83V90.99h1.2V127.83zM434 127.83V92.93h1.2V127.83zM436 127.83V98.21h1.2V127.83zM439 127.83V96.76h1.2V127.83zM441 127.83V115.74h1.2V127.83zM426 127.83V115.51h1.2V127.83zM445 127.83V90.99h1.2V127.83zM448 127.83V92.93h1.2V127.83zM451 127.83V98.21h1.2V127.83zM453 127.83V96.76h1.2V127.83zM456 127.83V115.74h1.2V127.83zM441 127.83V115.51h1.2V127.83zM460 127.83V90.99h1.2V127.83zM463 127.83V92.93h1.2V127.83zM465 127.83V98.21h1.2V127.83zM468 127.83V96.76h1.2V127.83zM470 127.83V115.74h1.2V127.83zM455 127.83V115.51h1.2V127.83zM474 127.83V90.99h1.2V127.83zM478 127.83V92.93h1.2V127.83zM480 127.83V98.21h1.2V127.83zM483 127.83V96.76h1.2V127.83zM485 127.83V115.74h1.2V127.83zM470 127.83V115.51h1.2V127.83zM489 127.83V90.99h1.2V127.83zM492 127.83V92.93h1.2V127.83zM494 127.83V98.21h1.2V127.83zM497 127.83V96.76h1.2V127.83zM499 127.83V115.74h1.2V127.83zM484 127.83V115.51h1.2V127.83zM504 127.83V90.99h1.2V127.83zM507 127.83V92.93h1.2V127.83zM509 127.83V98.21h1.2V127.83zM512 127.83V96.76h1.2V127.83zM514 127.83V115.74h1.2V127.83zM499 127.83V115.51h1.2V127.83zM518 127.83V90.99h1.2V127.83zM521 127.83V92.93h1.2V127.83zM524 127.83V98.21h1.2V127.83zM526 127.83V96.76h1.2V127.83zM514 127.83V115.51h1.2V127.83z" fill="#1676cf" fill-opacity="0.75"/>
</g>
<clipPath id="c2"><rect x="49.11" y="196.55" width="162.73" height="151.45"/></clipPath>
<g clip-path="url(#c2)">
<path d="M50.11 317.79V314.93h161.43V317.79zM50.11 315.61V311.65h1.56V315.61zM52.53 315.61V311.67h0.84V315.61zM53.94 315.61V314.51h0.96V315.61zM55.56 315.61V313.03h1.07V315.61zM57.07 315.61V314.5h1.1V315.61zM58.7 315.61V313.34h0.69V315.61zM59.64 315.61V313.62h0.62V315.61zM60.74 315.61V312.95h1.19V315.61zM63.02 315.61V312.4h1.26V315.61zM65.54 315.61V313.55h0.99V315.61zM67.91 315.61V312.38h0.75V315.61zM69.63 315.61V312.05h0.64V315.61zM71.54 315.61V312.35h1.23V315.61zM73.94 315.61V312.97h0.74V315.61zM75.49 315.61V312.14h1.43V315.61zM78.12 315.61V311.88h1.18V315.61zM80.32 315.61V313.84h1.29V315.61zM81.85 315.61V313.45h0.73V315.61zM82.91 315.61V312.87h1.44V315.61zM85.3 315.61V312.51h1.23V315.61zM87.31 315.61V312.16h0.6V315.61zM89.01 315.61V312.94h1.1V315.61zM91.11 315.61V312.34h0.67V315.61zM92.28 315.61V313.73h0.67V315.61zM94.02 315.61V312.33h0.81V315.61zM96.2 315.61V313.39h1.09V315.61zM98.07 315.61V312.25h1.28V315.61zM100.29 315.61V314.28h1.24V315.61zM101.91 315.61V312.32h0.85V315.61zM103.33 315.61V314.48h1.17V315.61zM104.77 315.61V312.53h0.87V315.61zM106.67 315.61V313.66h1.28V315.61zM108.77 315.61V313.14h1.06V315.61zM110.18 315.61V313.93h1.49V315.61zM113.04 315.61V314.46h1.54V315.61zM115.33 315.61V311.66h1.42V315.61zM117.49 315.61V313.89h0.87V315.61zM119.69 315.61V312.8h0.81V315.61zM120.87 315.61V311.71h1.12V315.61zM122.36 315.61V313.01h1.42V315.61zM125.04 315.61V313.83h1.3V315.61zM127.62 315.61V314.44h1.09V315.61zM128.91 315.61V313.19h1.09V315.61zM130.57 315.61V313.5h0.74V315.61zM131.89 315.61V314.51h1.44V315.61zM134.43 315.61V314.16h1.44V315.61zM137.18 315.61V311.86h1.31V315.61zM139.04 315.61V313.36h0.97V315.61zM141.41 315.61V313.45h1.19V315.61zM143.31 315.61V314.37h0.88V315.61zM144.51 315.61V313.67h1.43V315.61zM147.27 315.61V313.73h0.85V315.61zM148.93 315.61V313.41h0.79V315.61zM151.07 315.61V312.12h1.48V315.61zM153.51 315.61V311.74h1.51V315.61zM155.88 315.61V314.37h1.32V315.61zM158.28 315.61V312.3h1.05V315.61zM160.3 315.61V314.37h0.89V315.61zM162.5 315.61V313.12h0.73V315.61zM163.84 315.61V312.34h0.9V315.61zM166.11 315.61V312.58h0.86V315.61zM167.53 315.61V313.35h1.16V315.61zM169.09 315.61V313.9h0.76V315.61zM171.14 315.61V313.86h1.1V315.61zM173.52 315.61V313.19h1.6V315.61zM175.49 315.61V314.25h0.79V315.61zM176.89 315.61V313.81h0.69V315.61zM178.09 315.61V311.9h1.17V315.61zM180.36 315.61V313.29h1.01V315.61zM182.2 315.61V313.52h0.98V315.61zM183.45 315.61V311.66h0.88V315.61zM184.68 315.61V312.66h1.1V315.61zM187.02 315.61V313.71h0.82V315.61zM188.33 315.61V313.2h1V315.61zM190.68 315.61V311.94h1.45V315.61zM192.35 315.61V312.42h0.63V315.61zM194.26 315.61V312.78h1.07V315.61zM195.53 315.61V311.78h0.99V315.61zM197.72 315.61V311.65h1.46V315.61zM199.67 315.61V314.06h0.71V315.61zM201.21 315.61V311.74h1.28V315.61zM203.55 315.61V312.26h1.25V315.61zM205.55 315.61V314.4h1.15V315.61zM207.84 315.61V311.8h0.83V315.61zM209.65 315.61V314.14h0.9V315.61zM211.05 315.61V312.46h1.24V315.61z" fill="#1676cf" fill-opacity="0.85"/>
<path d="M51 315.61V307.97L52.1 308.67L52.8 311.44L53.6 314.22L54.3 313.92V315.61ZM56 315.61V292.51L57.1 294.61L57.8 303.01L58.6 311.41L59.3 313.92V315.61ZM59 315.61V294.55L60.1 296.46L60.8 304.12L61.6 311.78L62.3 313.92V315.61ZM61 315.61V298.48L62.1 300.04L62.8 306.27L63.6 312.49L64.3 313.92V315.61ZM64 315.61V297.33L65.1 298.99L65.8 305.64L66.6 312.28L67.3 313.92V315.61ZM66 315.61V303.99L67.1 305.05L67.8 309.27L68.6 313.49L69.3 313.92V315.61ZM68 315.61V310.28L69.1 310.77L69.8 312.7L70.6 314.64L71.3 313.92V315.61ZM70 315.61V288.3L71.1 290.79L71.8 300.71L72.6 310.64L73.3 313.92V315.61ZM74 315.61V290.02L75.1 292.34L75.8 301.65L76.6 310.95L77.3 313.92V315.61ZM76 315.61V294.04L77.1 296L77.8 303.84L78.6 311.69L79.3 313.92V315.61ZM78 315.61V293.02L79.1 295.08L79.8 303.29L80.6 311.5L81.3 313.92V315.61ZM81 315.61V303.99L82.1 305.05L82.8 309.27L83.6 313.49L84.3 313.92V315.61ZM83 315.61V310.28L84.1 310.77L84.8 312.7L85.6 314.64L86.3 313.92V315.61ZM85 315.61V288.3L86.1 290.79L86.8 300.71L87.6 310.64L88.3 313.92V315.61ZM88 315.61V290.02L89.1 292.34L89.8 301.65L90.6 310.95L91.3 313.92V315.61ZM90 315.61V294.04L91.1 296L91.8 303.84L92.6 311.69L93.3 313.92V315.61ZM93 315.61V293.02L94.1 295.08L94.8 303.29L95.6 311.5L96.3 313.92V315.61ZM95 315.61V303.99L96.1 305.05L96.8 309.27L97.6 313.49L98.3 313.92V315.61ZM98 315.61V310.28L99.1 310.77L99.8 312.7L100.6 314.64L101.3 313.92V315.61ZM100 315.61V288.3L101.1 290.79L101.8 300.71L102.6 310.64L103.3 313.92V315.61ZM103 315.61V290.02L104.1 292.34L104.8 301.65L105.6 310.95L106.3 313.92V315.61ZM105 315.61V294.04L106.1 296L106.8 303.84L107.6 311.69L108.3 313.92V315.61ZM108 315.61V293.02L109.1 295.08L109.8 303.29L110.6 311.5L111.3 313.92V315.61ZM110 315.61V303.99L111.1 305.05L111.8 309.27L112.6 313.49L113.3 313.92V315.61ZM112 315.61V310.28L113.1 310.77L113.8 312.7L114.6 314.64L115.3 313.92V315.61ZM114 315.61V288.3L115.1 290.79L115.8 300.71L116.6 310.64L117.3 313.92V315.61ZM117 315.61V290.02L118.1 292.34L118.8 301.65L119.6 310.95L120.3 313.92V315.61ZM120 315.61V294.04L121.1 296L121.8 303.84L122.6 311.69L123.3 313.92V315.61ZM122 315.61V293.02L123.1 295.08L123.8 303.29L124.6 311.5L125.3 313.92V315.61ZM125 315.61V303.99L126.1 305.05L126.8 309.27L127.6 313.49L128.3 313.92V315.61ZM127 315.61V310.28L128.1 310.77L128.8 312.7L129.6 314.64L130.3 313.92V315.61ZM129 315.61V288.3L130.1 290.79L130.8 300.71L131.6 310.64L132.3 313.92V315.61ZM132 315.61V290.02L133.1 292.34L133.8 301.65L134.6 310.95L135.3 313.92V315.61ZM134 315.61V294.04L135.1 296L135.8 303.84L136.6 311.69L137.3 313.92V315.61ZM137 315.61V293.02L138.1 295.08L138.8 303.29L139.6 311.5L140.3 313.92V315.61ZM139 315.61V303.99L140.1 305.05L140.8 309.27L141.6 313.49L142.3 313.92V315.61ZM141 315.61V310.28L142.1 310.77L142.8 312.7L143.6 314.64L144.3 313.92V315.61ZM143 315.61V288.3L144.1 290.79L144.8 300.71L145.6 310.64L146.3 313.92V315.61ZM147 315.61V290.02L148.1 292.34L148.8 301.65L149.6 310.95L150.3 313.92V315.61ZM149 315.61V294.04L150.1 296L150.8 303.84L151.6 311.69L152.3 313.92V315.61ZM152 315.61V293.02L153.1 295.08L153.8 303.29L154.6 311.5L155.3 313.92V315.61ZM154 315.61V303.99L155.1 305.05L155.8 309.27L156.6 313.49L157.3 313.92V315.61ZM156 315.61V310.28L157.1 310.77L157.8 312.7L158.6 314.64L159.3 313.92V315.61ZM158 315.61V288.3L159.1 290.79L159.8 300.71L160.6 310.64L161.3 313.92V315.61ZM161 315.61V290.02L162.1 292.34L162.8 301.65L163.6 310.95L164.3 313.92V315.61ZM164 315.61V294.04L165.1 296L165.8 303.84L166.6 311.69L167.3 313.92V315.61ZM166 315.61V293.02L167.1 295.08L167.8 303.29L168.6 311.5L169.3 313.92V315.61ZM169 315.61V303.99L170.1 305.05L170.8 309.27L171.6 313.49L172.3 313.92V315.61ZM171 315.61V310.28L172.1 310.77L172.8 312.7L173.6 314.64L174.3 313.92V315.61ZM173 315.61V288.3L174.1 290.79L174.8 300.71L175.6 310.64L176.3 313.92V315.61ZM176 315.61V290.02L177.1 292.34L177.8 301.65L178.6 310.95L179.3 313.92V315.61ZM178 315.61V294.04L179.1 296L179.8 303.84L180.6 311.69L181.3 313.92V315.61ZM181 315.61V293.02L182.1 295.08L182.8 303.29L183.6 311.5L184.3 313.92V315.61ZM183 315.61V303.99L184.1 305.05L184.8 309.27L185.6 313.49L186.3 313.92V315.61ZM185 315.61V310.28L186.1 310.77L186.8 312.7L187.6 314.64L188.3 313.92V315.61ZM187 315.61V288.3L188.1 290.79L188.8 300.71L189.6 310.64L190.3 313.92V315.61ZM191 315.61V290.02L192.1 292.34L192.8 301.65L193.6 310.95L194.3 313.92V315.61ZM193 315.61V294.04L194.1 296L194.8 303.84L195.6 311.69L196.3 313.92V315.61ZM196 315.61V293.02L197.1 295.08L197.8 303.29L198.6 311.5L199.3 313.92V315.61ZM198 315.61V303.99L199.1 305.05L199.8 309.27L200.6 313.49L201.3 313.92V315.61ZM200 315.61V310.28L201.1 310.77L201.8 312.7L202.6 314.64L203.3 313.92V315.61ZM202 315.61V288.3L203.1 290.79L203.8 300.71L204.6 310.64L205.3 313.92V315.61ZM205 315.61V290.02L206.1 292.34L206.8 301.65L207.6 310.95L208.3 313.92V315.61ZM208 315.61V294.04L209.1 296L209.8 303.84L210.6 311.69L211.3 313.92V315.61ZM210 315.61V293.02L211.1 295.08L211.8 303.29L212.6 311.5L213.3 313.92V315.61Z" fill="#1676cf" fill-opacity="0.72"/>
<path d="M51 315.61V302.73h1V315.61zM56 315.61V274.63h1V315.61zM59 315.61V278.33h1V315.61zM61 315.61V285.48h1V315.61zM64 315.61V283.38h1V315.61zM66 315.61V295.5h1V315.61zM68 315.61V306.94h1V315.61zM70 315.61V266.97h1V315.61zM74 315.61V270.09h1V315.61zM76 315.61V277.41h1V315.61zM78 315.61V275.56h1V315.61zM81 315.61V295.5h1V315.61zM83 315.61V306.94h1V315.61zM85 315.61V266.97h1V315.61zM88 315.61V270.09h1V315.61zM90 315.61V277.41h1V315.61zM93 315.61V275.56h1V315.61zM95 315.61V295.5h1V315.61zM98 315.61V306.94h1V315.61zM100 315.61V266.97h1V315.61zM103 315.61V270.09h1V315.61zM105 315.61V277.41h1V315.61zM108 315.61V275.56h1V315.61zM110 315.61V295.5h1V315.61zM112 315.61V306.94h1V315.61zM114 315.61V266.97h1V315.61zM117 315.61V270.09h1V315.61zM120 315.61V277.41h1V315.61zM122 315.61V275.56h1V315.61zM125 315.61V295.5h1V315.61zM127 315.61V306.94h1V315.61zM129 315.61V266.97h1V315.61zM132 315.61V270.09h1V315.61zM134 315.61V277.41h1V315.61zM137 315.61V275.56h1V315.61zM139 315.61V295.5h1V315.61zM141 315.61V306.94h1V315.61zM143 315.61V266.97h1V315.61zM147 315.61V270.09h1V315.61zM149 315.61V277.41h1V315.61zM152 315.61V275.56h1V315.61zM154 315.61V295.5h1V315.61zM156 315.61V306.94h1V315.61zM158 315.61V266.97h1V315.61zM161 315.61V270.09h1V315.61zM164 315.61V277.41h1V315.61zM166 315.61V275.56h1V315.61zM169 315.61V295.5h1V315.61zM171 315.61V306.94h1V315.61zM173 315.61V266.97h1V315.61zM176 315.61V270.09h1V315.61zM178 315.61V277.41h1V315.61zM181 315.61V275.56h1V315.61zM183 315.61V295.5h1V315.61zM185 315.61V306.94h1V315.61zM187 315.61V266.97h1V315.61zM191 315.61V270.09h1V315.61zM193 315.61V277.41h1V315.61zM196 315.61V275.56h1V315.61zM198 315.61V295.5h1V315.61zM200 315.61V306.94h1V315.61zM202 315.61V266.97h1V315.61zM205 315.61V270.09h1V315.61zM208 315.61V277.41h1V315.61zM210 315.61V275.56h1V315.61z" fill="#1676cf" fill-opacity="0.52"/>
<path d="M50.5 315.61V303.41h0.5V315.61zM57 315.61V275.3h0.5V315.61zM58.5 315.61V279.01h0.5V315.61zM62 315.61V286.16h0.5V315.61zM65 315.61V284.05h0.5V315.61zM65.5 315.61V296.17h0.5V315.61zM67.5 315.61V307.61h0.5V315.61zM69.5 315.61V267.65h0.5V315.61zM75 315.61V270.76h0.5V315.61zM77 315.61V278.08h0.5V315.61zM79 315.61V276.23h0.5V315.61zM82 315.61V296.17h0.5V315.61zM82.5 315.61V307.61h0.5V315.61zM86 315.61V267.65h0.5V315.61zM87.5 315.61V270.76h0.5V315.61zM89.5 315.61V278.08h0.5V315.61zM92.5 315.61V276.23h0.5V315.61zM96 315.61V296.17h0.5V315.61zM99 315.61V307.61h0.5V315.61zM99.5 315.61V267.65h0.5V315.61zM102.5 315.61V270.76h0.5V315.61zM104.5 315.61V278.08h0.5V315.61zM109 315.61V276.23h0.5V315.61zM111 315.61V296.17h0.5V315.61zM111.5 315.61V307.61h0.5V315.61zM115 315.61V267.65h0.5V315.61zM116.5 315.61V270.76h0.5V315.61zM121 315.61V278.08h0.5V315.61zM123 315.61V276.23h0.5V315.61zM124.5 315.61V296.17h0.5V315.61zM128 315.61V307.61h0.5V315.61zM128.5 315.61V267.65h0.5V315.61zM133 315.61V270.76h0.5V315.61zM135 315.61V278.08h0.5V315.61zM138 315.61V276.23h0.5V315.61zM140 315.61V296.17h0.5V315.61zM140.5 315.61V307.61h0.5V315.61zM142.5 315.61V267.65h0.5V315.61zM148 315.61V270.76h0.5V315.61zM148.5 315.61V278.08h0.5V315.61zM151.5 315.61V276.23h0.5V315.61zM155 315.61V296.17h0.5V315.61zM155.5 315.61V307.61h0.5V315.61zM159 315.61V267.65h0.5V315.61zM160.5 315.61V270.76h0.5V315.61zM163.5 315.61V278.08h0.5V315.61zM167 315.61V276.23h0.5V315.61zM168.5 315.61V296.17h0.5V315.61zM172 315.61V307.61h0.5V315.61zM174 315.61V267.65h0.5V315.61zM175.5 315.61V270.76h0.5V315.61zM179 315.61V278.08h0.5V315.61zM180.5 315.61V276.23h0.5V315.61zM182.5 315.61V296.17h0.5V315.61zM186 315.61V307.61h0.5V315.61zM188 315.61V267.65h0.5V315.61zM190.5 315.61V270.76h0.5V315.61zM192.5 315.61V278.08h0.5V315.61zM197 315.61V276.23h0.5V315.61zM197.5 315.61V296.17h0.5V315.61zM199.5 315.61V307.61h0.5V315.61zM201.5 315.61V267.65h0.5V315.61zM204.5 315.61V270.76h0.5V315.61zM209 315.61V278.08h0.5V315.61zM209.5 315.61V276.23h0.5V315.61z" fill="#1676cf" fill-opacity="0.4"/>
<path d="M51 302.73V301.39h1V302.73zM56 274.63V273.28h1V274.63zM59 278.33V276.99h1V278.33zM61 285.48V284.14h1V285.48zM64 283.38V282.04h1V283.38zM66 295.5V294.15h1V295.5zM68 306.94V305.59h1V306.94zM70 266.97V265.63h1V266.97zM74 270.09V268.74h1V270.09zM76 277.41V276.06h1V277.41zM78 275.56V274.21h1V275.56zM81 295.5V294.15h1V295.5zM83 306.94V305.59h1V306.94zM85 266.97V265.63h1V266.97zM88 270.09V268.74h1V270.09zM90 277.41V276.06h1V277.41zM93 275.56V274.21h1V275.56zM95 295.5V294.15h1V295.5zM98 306.94V305.59h1V306.94zM100 266.97V265.63h1V266.97zM103 270.09V268.74h1V270.09zM105 277.41V276.06h1V277.41zM108 275.56V274.21h1V275.56zM110 295.5V294.15h1V295.5zM112 306.94V305.59h1V306.94zM114 266.97V265.63h1V266.97zM117 270.09V268.74h1V270.09zM120 277.41V276.06h1V277.41zM122 275.56V274.21h1V275.56zM125 295.5V294.15h1V295.5zM127 306.94V305.59h1V306.94zM129 266.97V265.63h1V266.97zM132 270.09V268.74h1V270.09zM134 277.41V276.06h1V277.41zM137 275.56V274.21h1V275.56zM139 295.5V294.15h1V295.5zM141 306.94V305.59h1V306.94zM143 266.97V265.63h1V266.97zM147 270.09V268.74h1V270.09zM149 277.41V276.06h1V277.41zM152 275.56V274.21h1V275.56zM154 295.5V294.15h1V295.5zM156 306.94V305.59h1V306.94zM158 266.97V265.63h1V266.97zM161 270.09V268.74h1V270.09zM164 277.41V276.06h1V277.41zM166 275.56V274.21h1V275.56zM169 295.5V294.15h1V295.5zM171 306.94V305.59h1V306.94zM173 266.97V265.63h1V266.97zM176 270.09V268.74h1V270.09zM178 277.41V276.06h1V277.41zM181 275.56V274.21h1V275.56zM183 295.5V294.15h1V295.5zM185 306.94V305.59h1V306.94zM187 266.97V265.63h1V266.97zM191 270.09V268.74h1V270.09zM193 277.41V276.06h1V277.41zM196 275.56V274.21h1V275.56zM198 295.5V294.15h1V295.5zM200 306.94V305.59h1V306.94zM202 266.97V265.63h1V266.97zM205 270.09V268.74h1V270.09zM208 277.41V276.06h1V277.41zM210 275.56V274.21h1V275.56z" fill="#1676cf" fill-opacity="0.25"/>
<path d="M51 315.61V309.36h1.2V315.61zM56 315.61V287.9h1.2V315.61zM59 315.61V290.34h1.2V315.61zM61 315.61V301.6h1.2V315.61zM64 315.61V300.65h1.2V315.61zM66 315.61V306.1h1.2V315.61zM68 315.61V311.25h1.2V315.61zM70 315.61V282.84h1.2V315.61zM74 315.61V284.9h1.2V315.61zM76 315.61V289.73h1.2V315.61zM78 315.61V288.51h1.2V315.61zM81 315.61V306.1h1.2V315.61zM83 315.61V311.25h1.2V315.61zM85 315.61V282.84h1.2V315.61zM88 315.61V284.9h1.2V315.61zM90 315.61V289.73h1.2V315.61zM93 315.61V288.51h1.2V315.61zM95 315.61V306.1h1.2V315.61zM98 315.61V311.25h1.2V315.61zM100 315.61V282.84h1.2V315.61zM103 315.61V284.9h1.2V315.61zM105 315.61V289.73h1.2V315.61zM108 315.61V288.51h1.2V315.61zM110 315.61V306.1h1.2V315.61zM112 315.61V311.25h1.2V315.61zM114 315.61V282.84h1.2V315.61zM117 315.61V284.9h1.2V315.61zM120 315.61V289.73h1.2V315.61zM122 315.61V288.51h1.2V315.61zM125 315.61V306.1h1.2V315.61zM127 315.61V311.25h1.2V315.61zM129 315.61V282.84h1.2V315.61zM132 315.61V284.9h1.2V315.61zM134 315.61V289.73h1.2V315.61zM137 315.61V288.51h1.2V315.61zM139 315.61V306.1h1.2V315.61zM141 315.61V311.25h1.2V315.61zM143 315.61V282.84h1.2V315.61zM147 315.61V284.9h1.2V315.61zM149 315.61V289.73h1.2V315.61zM152 315.61V288.51h1.2V315.61zM154 315.61V306.1h1.2V315.61zM156 315.61V311.25h1.2V315.61zM158 315.61V282.84h1.2V315.61zM161 315.61V284.9h1.2V315.61zM164 315.61V289.73h1.2V315.61zM166 315.61V288.51h1.2V315.61zM169 315.61V306.1h1.2V315.61zM171 315.61V311.25h1.2V315.61zM173 315.61V282.84h1.2V315.61zM176 315.61V284.9h1.2V315.61zM178 315.61V289.73h1.2V315.61zM181 315.61V288.51h1.2V315.61zM183 315.61V306.1h1.2V315.61zM185 315.61V311.25h1.2V315.61zM187 315.61V282.84h1.2V315.61zM191 315.61V284.9h1.2V315.61zM193 315.61V289.73h1.2V315.61zM196 315.61V288.51h1.2V315.61zM198 315.61V306.1h1.2V315.61zM200 315.61V311.25h1.2V315.61zM202 315.61V282.84h1.2V315.61zM205 315.61V284.9h1.2V315.61zM208 315.61V289.73h1.2V315.61zM210 315.61V288.51h1.2V315.61z" fill="#1676cf" fill-opacity="0.75"/>
</g>
<path d="M366 313.85V295.58h161.8V313.85z" fill="#1676cf" fill-opacity="0.8"/>
<path d="M367 296V287.16h1V296zM370 296V287.16h1V296zM373 296V287.16h1V296zM375 296V287.16h1V296zM378 296V287.16h1V296zM382 296V287.16h1V296zM385 296V287.16h1V296zM387 296V287.16h1V296zM390 296V287.16h1V296zM393 296V287.16h1V296zM397 296V287.16h1V296zM399 296V287.16h1V296zM402 296V287.16h1V296zM405 296V287.16h1V296zM407 296V287.16h1V296zM411 296V287.16h1V296zM414 296V287.16h1V296zM417 296V287.16h1V296zM419 296V287.16h1V296zM422 296V287.16h1V296zM426 296V287.16h1V296zM429 296V287.16h1V296zM431 296V287.16h1V296zM434 296V287.16h1V296zM436 296V287.16h1V296zM441 296V287.16h1V296zM443 296V287.16h1V296zM446 296V287.16h1V296zM449 296V287.16h1V296zM451 296V287.16h1V296zM455 296V287.16h1V296zM458 296V287.16h1V296zM461 296V287.16h1V296zM463 296V287.16h1V296zM466 296V287.16h1V296zM470 296V287.16h1V296zM473 296V287.16h1V296zM475 296V287.16h1V296zM478 296V287.16h1V296zM480 296V287.16h1V296zM485 296V287.16h1V296zM487 296V287.16h1V296zM490 296V287.16h1V296zM492 296V287.16h1V296zM495 296V287.16h1V296zM499 296V287.16h1V296zM502 296V287.16h1V296zM504 296V287.16h1V296zM507 296V287.16h1V296zM510 296V287.16h1V296zM514 296V287.16h1V296zM517 296V287.16h1V296zM519 296V287.16h1V296zM522 296V287.16h1V296zM524 296V287.16h1V296z" fill="#1676cf" fill-opacity="0.7"/>
<path d="M367 287.16V285.9h1V287.16zM366.65 296V286.74h1.7V296zM370 287.16V285.9h1V287.16zM369.65 296V286.74h1.7V296zM373 287.16V285.9h1V287.16zM372.65 296V286.74h1.7V296zM375 287.16V285.9h1V287.16zM374.65 296V286.74h1.7V296zM378 287.16V285.9h1V287.16zM377.65 296V286.74h1.7V296zM382 287.16V285.9h1V287.16zM381.65 296V286.74h1.7V296zM385 287.16V285.9h1V287.16zM384.65 296V286.74h1.7V296zM387 287.16V285.9h1V287.16zM386.65 296V286.74h1.7V296zM390 287.16V285.9h1V287.16zM389.65 296V286.74h1.7V296zM393 287.16V285.9h1V287.16zM392.65 296V286.74h1.7V296zM397 287.16V285.9h1V287.16zM396.65 296V286.74h1.7V296zM399 287.16V285.9h1V287.16zM398.65 296V286.74h1.7V296zM402 287.16V285.9h1V287.16zM401.65 296V286.74h1.7V296zM405 287.16V285.9h1V287.16zM404.65 296V286.74h1.7V296zM407 287.16V285.9h1V287.16zM406.65 296V286.74h1.7V296zM411 287.16V285.9h1V287.16zM410.65 296V286.74h1.7V296zM414 287.16V285.9h1V287.16zM413.65 296V286.74h1.7V296zM417 287.16V285.9h1V287.16zM416.65 296V286.74h1.7V296zM419 287.16V285.9h1V287.16zM418.65 296V286.74h1.7V296zM422 287.16V285.9h1V287.16zM421.65 296V286.74h1.7V296zM426 287.16V285.9h1V287.16zM425.65 296V286.74h1.7V296zM429 287.16V285.9h1V287.16zM428.65 296V286.74h1.7V296zM431 287.16V285.9h1V287.16zM430.65 296V286.74h1.7V296zM434 287.16V285.9h1V287.16zM433.65 296V286.74h1.7V296zM436 287.16V285.9h1V287.16zM435.65 296V286.74h1.7V296zM441 287.16V285.9h1V287.16zM440.65 296V286.74h1.7V296zM443 287.16V285.9h1V287.16zM442.65 296V286.74h1.7V296zM446 287.16V285.9h1V287.16zM445.65 296V286.74h1.7V296zM449 287.16V285.9h1V287.16zM448.65 296V286.74h1.7V296zM451 287.16V285.9h1V287.16zM450.65 296V286.74h1.7V296zM455 287.16V285.9h1V287.16zM454.65 296V286.74h1.7V296zM458 287.16V285.9h1V287.16zM457.65 296V286.74h1.7V296zM461 287.16V285.9h1V287.16zM460.65 296V286.74h1.7V296zM463 287.16V285.9h1V287.16zM462.65 296V286.74h1.7V296zM466 287.16V285.9h1V287.16zM465.65 296V286.74h1.7V296zM470 287.16V285.9h1V287.16zM469.65 296V286.74h1.7V296zM473 287.16V285.9h1V287.16zM472.65 296V286.74h1.7V296zM475 287.16V285.9h1V287.16zM474.65 296V286.74h1.7V296zM478 287.16V285.9h1V287.16zM477.65 296V286.74h1.7V296zM480 287.16V285.9h1V287.16zM479.65 296V286.74h1.7V296zM485 287.16V285.9h1V287.16zM484.65 296V286.74h1.7V296zM487 287.16V285.9h1V287.16zM486.65 296V286.74h1.7V296zM490 287.16V285.9h1V287.16zM489.65 296V286.74h1.7V296zM492 287.16V285.9h1V287.16zM491.65 296V286.74h1.7V296zM495 287.16V285.9h1V287.16zM494.65 296V286.74h1.7V296zM499 287.16V285.9h1V287.16zM498.65 296V286.74h1.7V296zM502 287.16V285.9h1V287.16zM501.65 296V286.74h1.7V296zM504 287.16V285.9h1V287.16zM503.65 296V286.74h1.7V296zM507 287.16V285.9h1V287.16zM506.65 296V286.74h1.7V296zM510 287.16V285.9h1V287.16zM509.65 296V286.74h1.7V296zM514 287.16V285.9h1V287.16zM513.65 296V286.74h1.7V296zM517 287.16V285.9h1V287.16zM516.65 296V286.74h1.7V296zM519 287.16V285.9h1V287.16zM518.65 296V286.74h1.7V296zM522 287.16V285.9h1V287.16zM521.65 296V286.74h1.7V296zM524 287.16V285.9h1V287.16zM523.65 296V286.74h1.7V296z" fill="#1676cf" fill-opacity="0.25"/>
<path d="M367 314.52V295.58h1V314.52zM370 314.52V295.58h1V314.52zM373 314.52V295.58h1V314.52zM375 314.52V295.58h1V314.52zM378 314.52V295.58h1V314.52zM382 314.52V295.58h1V314.52zM385 314.52V295.58h1V314.52zM387 314.52V295.58h1V314.52zM390 314.52V295.58h1V314.52zM393 314.52V295.58h1V314.52zM397 314.52V295.58h1V314.52zM399 314.52V295.58h1V314.52zM402 314.52V295.58h1V314.52zM405 314.52V295.58h1V314.52zM407 314.52V295.58h1V314.52zM411 314.52V295.58h1V314.52zM414 314.52V295.58h1V314.52zM417 314.52V295.58h1V314.52zM419 314.52V295.58h1V314.52zM422 314.52V295.58h1V314.52zM426 314.52V295.58h1V314.52zM429 314.52V295.58h1V314.52zM431 314.52V295.58h1V314.52zM434 314.52V295.58h1V314.52zM436 314.52V295.58h1V314.52zM441 314.52V295.58h1V314.52zM443 314.52V295.58h1V314.52zM446 314.52V295.58h1V314.52zM449 314.52V295.58h1V314.52zM451 314.52V295.58h1V314.52zM455 314.52V295.58h1V314.52zM458 314.52V295.58h1V314.52zM461 314.52V295.58h1V314.52zM463 314.52V295.58h1V314.52zM466 314.52V295.58h1V314.52zM470 314.52V295.58h1V314.52zM473 314.52V295.58h1V314.52zM475 314.52V295.58h1V314.52zM478 314.52V295.58h1V314.52zM480 314.52V295.58h1V314.52zM485 314.52V295.58h1V314.52zM487 314.52V295.58h1V314.52zM490 314.52V295.58h1V314.52zM492 314.52V295.58h1V314.52zM495 314.52V295.58h1V314.52zM499 314.52V295.58h1V314.52zM502 314.52V295.58h1V314.52zM504 314.52V295.58h1V314.52zM507 314.52V295.58h1V314.52zM510 314.52V295.58h1V314.52zM514 314.52V295.58h1V314.52zM517 314.52V295.58h1V314.52zM519 314.52V295.58h1V314.52zM522 314.52V295.58h1V314.52zM524 314.52V295.58h1V314.52z" fill="#0a5fbd" fill-opacity="0.5"/>
<path d="M380.5 298.53V295.33h2V298.53zM395.5 298.53V295.33h2V298.53zM409.5 298.53V295.33h2V298.53zM424.5 298.53V295.33h2V298.53zM439.5 298.53V295.33h2V298.53zM453.5 298.53V295.33h2V298.53zM468.5 298.53V295.33h2V298.53zM483.5 298.53V295.33h2V298.53zM497.5 298.53V295.33h2V298.53zM512.5 298.53V295.33h2V298.53z" fill="#ffffff" fill-opacity="0.22"/>
<path d="M366 317.47V313.68h1V317.47zM369 317.47V313.68h1V317.47zM371 317.47V313.68h1V317.47zM374 317.47V313.68h1V317.47zM376 317.47V313.68h1V317.47zM379 317.47V313.68h1V317.47zM381 317.47V313.68h1V317.47zM383 317.47V313.68h1V317.47zM386 317.47V313.68h1V317.47zM388 317.47V313.68h1V317.47zM391 317.47V313.68h1V317.47zM393 317.47V313.68h1V317.47zM396 317.47V313.68h1V317.47zM398 317.47V313.68h1V317.47zM401 317.47V313.68h1V317.47zM403 317.47V313.68h1V317.47zM405 317.47V313.68h1V317.47zM408 317.47V313.68h1V317.47zM410 317.47V313.68h1V317.47zM413 317.47V313.68h1V317.47zM415 317.47V313.68h1V317.47zM418 317.47V313.68h1V317.47zM420 317.47V313.68h1V317.47zM423 317.47V313.68h1V317.47zM425 317.47V313.68h1V317.47zM427 317.47V313.68h1V317.47zM430 317.47V313.68h1V317.47zM432 317.47V313.68h1V317.47zM435 317.47V313.68h1V317.47zM437 317.47V313.68h1V317.47zM440 317.47V313.68h1V317.47zM442 317.47V313.68h1V317.47zM445 317.47V313.68h1V317.47zM447 317.47V313.68h1V317.47zM449 317.47V313.68h1V317.47zM452 317.47V313.68h1V317.47zM454 317.47V313.68h1V317.47zM457 317.47V313.68h1V317.47zM459 317.47V313.68h1V317.47zM462 317.47V313.68h1V317.47zM464 317.47V313.68h1V317.47zM467 317.47V313.68h1V317.47zM469 317.47V313.68h1V317.47zM471 317.47V313.68h1V317.47zM474 317.47V313.68h1V317.47zM476 317.47V313.68h1V317.47zM479 317.47V313.68h1V317.47zM481 317.47V313.68h1V317.47zM484 317.47V313.68h1V317.47zM486 317.47V313.68h1V317.47zM488 317.47V313.68h1V317.47zM491 317.47V313.68h1V317.47zM493 317.47V313.68h1V317.47zM496 317.47V313.68h1V317.47zM498 317.47V313.68h1V317.47zM501 317.47V313.68h1V317.47zM503 317.47V313.68h1V317.47zM506 317.47V313.68h1V317.47zM508 317.47V313.68h1V317.47zM510 317.47V313.68h1V317.47zM513 317.47V313.68h1V317.47zM515 317.47V313.68h1V317.47zM518 317.47V313.68h1V317.47zM520 317.47V313.68h1V317.47zM523 317.47V313.68h1V317.47zM525 317.47V313.68h1V317.47z" fill="#1676cf" fill-opacity="0.85"/>
<rect x="146.1" y="12.8" width="52.4" height="13.4" fill="#fff" stroke="#a6a6a6" stroke-width="0.7"/>
<path d="M148.3 20.6h12.4" stroke="#8cc2ee" stroke-width="0.9"/>
<text x="164" y="23.5" font-size="11.1"><tspan font-style="italic">D</tspan>=1.55</text>
<rect x="458.1" y="11.9" width="52.4" height="14" fill="#fff" stroke="#a6a6a6" stroke-width="0.7"/>
<path d="M460.3 20.5h12.4" stroke="#4da0e0" stroke-width="0.9"/>
<text x="476" y="23.1" font-size="11.1"><tspan font-style="italic">D</tspan>=1.60</text>
<rect x="137.2" y="200.3" width="52.8" height="14.2" fill="#fff" stroke="#a6a6a6" stroke-width="0.7"/>
<path d="M139.4 208.6h12.4" stroke="#4da0e0" stroke-width="0.9"/>
<text x="154.9" y="211.5" font-size="11.1"><tspan font-style="italic">D</tspan>=1.65</text>
<rect x="462.2" y="199.9" width="53.2" height="14.3" fill="#fff" stroke="#a6a6a6" stroke-width="0.7"/>
<path d="M464.4 208.5h12.4" stroke="#4da0e0" stroke-width="0.9"/>
<text x="479.9" y="211.1" font-size="11.1"><tspan font-style="italic">D</tspan>=2.00</text>
</svg>
</body></html>
